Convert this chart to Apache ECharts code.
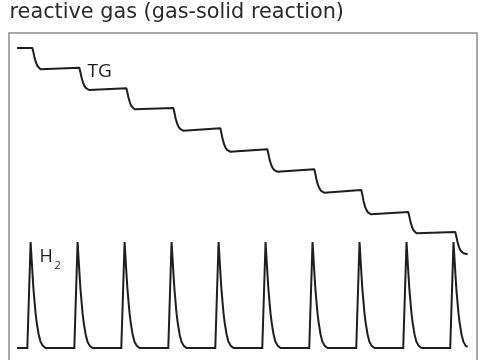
<!DOCTYPE html>
<html>
<head>
<meta charset="utf-8">
<script src="https://cdn.jsdelivr.net/npm/echarts@6/dist/echarts.min.js"></script>
<style>html,body{margin:0;padding:0;background:#fff}#c{width:480px;height:360px}</style>
</head>
<body>
<div id="c"></div>
<script>
// Title and curve labels
const chartTitle = 'reactive gas (gas-solid reaction)';
const tgLabel = 'TG';
const h2Label = 'H';
const h2Sub = '2';

// TG curve: [time (a.u.), mass (%)]
const tgCurve = [
  [1.7,100],
  [4.98,100],[5.2,98.53],[5.45,96.70],[5.77,95.02],[6.09,93.92],[6.41,93.26],[6.73,92.89],[7.05,92.67],
  [14.98,93.43],[15.2,91.94],[15.45,90.09],[15.77,88.38],[16.09,87.26],[16.41,86.59],[16.73,86.22],[17.05,86.0],
  [24.98,86.57],[25.2,85.12],[25.45,83.31],[25.77,81.65],[26.09,80.56],[26.41,79.91],[26.73,79.55],[27.05,79.33],
  [34.98,80.0],[35.2,78.49],[35.45,76.59],[35.77,74.85],[36.09,73.72],[36.41,73.04],[36.73,72.66],[37.05,72.43],
  [44.98,73.23],[45.2,71.67],[45.45,69.72],[45.77,67.93],[46.09,66.76],[46.41,66.05],[46.73,65.66],[47.05,65.43],
  [54.98,66.23],[55.2,64.74],[55.45,62.87],[55.77,61.16],[56.09,60.04],[56.41,59.37],[56.73,58.99],[57.05,58.77],
  [64.98,59.57],[65.2,58.01],[65.45,56.06],[65.77,54.27],[66.09,53.10],[66.41,52.39],[66.73,52.00],[67.05,51.77],
  [74.98,52.67],[75.2,51.05],[75.45,49.03],[75.77,47.16],[76.09,45.95],[76.41,45.22],[76.73,44.81],[77.05,44.57],
  [84.98,45.33],[85.2,43.86],[85.45,42.03],[85.77,40.35],[86.09,39.25],[86.41,38.59],[86.73,38.22],[87.05,38.0],
  [94.98,38.67],[95.2,37.18],[95.45,35.32],[95.77,33.61],[96.09,32.49],[96.41,31.90],[96.73,31.60],[97.05,31.45],[97.6,31.23]
];

// H2 signal: [time (a.u.), intensity (a.u.)]
const h2Curve = [
  [1.7,0],
  [3.9,0],[4.6,1],[4.8,0.85],[5.0,0.70],[5.2,0.56],[5.45,0.43],[5.65,0.33],[5.9,0.24],[6.3,0.13],[6.7,0.06],[7.2,0.02],[7.8,0],
  [13.9,0],[14.6,1],[14.8,0.85],[15.0,0.70],[15.2,0.56],[15.45,0.43],[15.65,0.33],[15.9,0.24],[16.3,0.13],[16.7,0.06],[17.2,0.02],[17.8,0],
  [23.9,0],[24.6,1],[24.8,0.85],[25.0,0.70],[25.2,0.56],[25.45,0.43],[25.65,0.33],[25.9,0.24],[26.3,0.13],[26.7,0.06],[27.2,0.02],[27.8,0],
  [33.9,0],[34.6,1],[34.8,0.85],[35.0,0.70],[35.2,0.56],[35.45,0.43],[35.65,0.33],[35.9,0.24],[36.3,0.13],[36.7,0.06],[37.2,0.02],[37.8,0],
  [43.9,0],[44.6,1],[44.8,0.85],[45.0,0.70],[45.2,0.56],[45.45,0.43],[45.65,0.33],[45.9,0.24],[46.3,0.13],[46.7,0.06],[47.2,0.02],[47.8,0],
  [53.9,0],[54.6,1],[54.8,0.85],[55.0,0.70],[55.2,0.56],[55.45,0.43],[55.65,0.33],[55.9,0.24],[56.3,0.13],[56.7,0.06],[57.2,0.02],[57.8,0],
  [63.9,0],[64.6,1],[64.8,0.85],[65.0,0.70],[65.2,0.56],[65.45,0.43],[65.65,0.33],[65.9,0.24],[66.3,0.13],[66.7,0.06],[67.2,0.02],[67.8,0],
  [73.9,0],[74.6,1],[74.8,0.85],[75.0,0.70],[75.2,0.56],[75.45,0.43],[75.65,0.33],[75.9,0.24],[76.3,0.13],[76.7,0.06],[77.2,0.02],[77.8,0],
  [83.9,0],[84.6,1],[84.8,0.85],[85.0,0.70],[85.2,0.56],[85.45,0.43],[85.65,0.33],[85.9,0.24],[86.3,0.13],[86.7,0.06],[87.2,0.02],[87.8,0],
  [93.9,0],[94.6,1],[94.8,0.85],[95.0,0.70],[95.2,0.56],[95.45,0.43],[95.65,0.33],[95.9,0.24],[96.3,0.13],[96.7,0.06],[97.2,0.02],[97.6,0.01]
];

const FONT = '"Open Sans", "Noto Sans", sans-serif';
const TITLE_FONT = '"DejaVu Sans", "Open Sans", sans-serif';
const chart = echarts.init(document.getElementById('c'), null, {renderer: 'canvas'});
chart.setOption({
  animation: false,
  backgroundColor: '#ffffff',
  grid: {left: 9, right: 3, top: 48, bottom: 12, show: false},
  xAxis: {type: 'value', min: 0, max: 99.6, show: false},
  yAxis: [
    {type: 'value', min: 0, max: 100, show: false},
    {type: 'value', min: 0, max: 2.83, show: false}
  ],
  graphic: [
    {type: 'rect', shape: {x: 9, y: 33, width: 468, height: 340},
     style: {fill: 'none', stroke: '#8c8c8c', lineWidth: 1.5}, silent: true, z: 0},
    {type: 'text', style: {x: 9.5, y: 13, text: chartTitle, font: '20.8px ' + TITLE_FONT, fill: '#2a2a2a', verticalAlign: 'middle', align: 'left'}},
    {type: 'text', style: {x: 87.5, y: 71.5, text: tgLabel, font: '19px ' + FONT, fill: '#1e1e1e', verticalAlign: 'middle', align: 'left'}},
    {type: 'text', style: {x: 39.5, y: 257, text: h2Label, font: '18px ' + FONT, fill: '#1e1e1e', verticalAlign: 'middle', align: 'left'}},
    {type: 'text', style: {x: 54.5, y: 265.5, text: h2Sub, font: '11px ' + FONT, fill: '#1e1e1e', verticalAlign: 'middle', align: 'left'}}
  ],
  series: [
    {type: 'line', name: 'TG', data: tgCurve, yAxisIndex: 0, showSymbol: false, clip: false,
     lineStyle: {color: '#1e1e1e', width: 2}},
    {type: 'line', name: 'H2', data: h2Curve, yAxisIndex: 1, showSymbol: false, clip: false,
     lineStyle: {color: '#1e1e1e', width: 2, join: 'miter'}}
  ]
});
</script>
</body>
</html>
